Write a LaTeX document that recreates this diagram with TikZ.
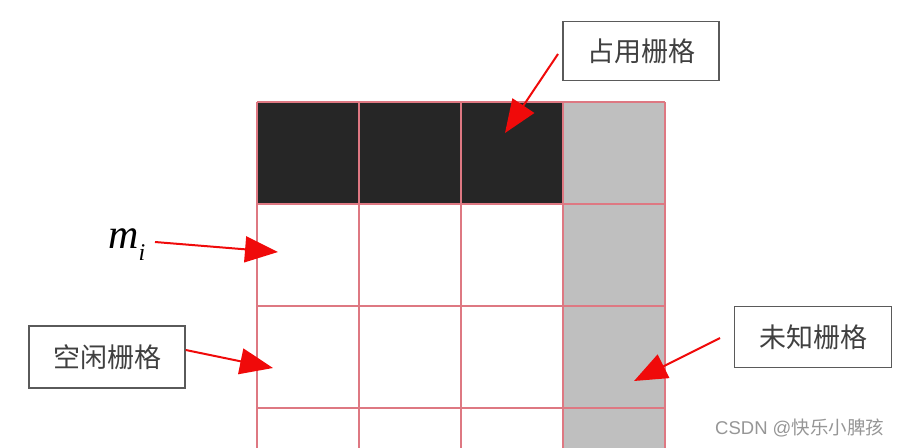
\documentclass[tikz,border=0pt]{standalone}
\usepackage{fontspec}
\setmainfont{Liberation Serif}
\newfontfamily\cjk{Noto Sans CJK SC}
\newfontfamily\wmfont{Liberation Sans}
\usetikzlibrary{arrows.meta}
\definecolor{occ}{RGB}{38,38,38}
\definecolor{unk}{RGB}{191,191,191}
\definecolor{gridred}{RGB}{222,120,130}
\definecolor{boxgray}{RGB}{90,90,90}
\definecolor{arrred}{RGB}{240,10,10}
\definecolor{wmgray}{RGB}{150,150,150}
\tikzset{
  labelbox/.style={draw=boxgray, line width=1.5pt, fill=white, inner sep=0pt, font=\cjk\fontsize{27}{27}\selectfont, text=black!75},
  redarrow/.style={draw=arrred, line width=2pt, -{Triangle[length=33pt,width=26pt]}, color=arrred},
  gridline/.style={draw=gridred, line width=1.1pt}
}
\begin{document}
\begin{tikzpicture}[x=1pt,y=-1pt]
\useasboundingbox (0,0) rectangle (902,447);
\begin{scope}
\clip (0,0) rectangle (902,447);
% cells
\fill[occ] (257,102) rectangle (563,204);
\fill[unk] (563,102) rectangle (665,460);
% grid lines
\foreach \x in {257,359,461,563,665} \draw[gridline] (\x,102) -- (\x,460);
\foreach \y in {102,204,306,408} \draw[gridline] (257,\y) -- (665,\y);
\end{scope}
% labels
\node[labelbox, minimum width=156pt, minimum height=59pt] (occbox) at (641,51) {占用栅格};
\node[labelbox, minimum width=156pt, minimum height=62pt] (freebox) at (107,357) {空闲栅格};
\node[labelbox, minimum width=157pt, minimum height=61pt] (unkbox) at (813,337) {未知栅格};
\node[inner sep=0pt, anchor=base west] (mi) at (108,248) {\fontsize{42}{42}\selectfont\itshape m\raisebox{-12pt}{\fontsize{24}{24}\selectfont i}};
% arrow targets
\coordinate (occcell) at (505,133);
\coordinate (micell) at (278,252);
\coordinate (freecell) at (273,368);
\coordinate (unkcell) at (634,381);
\coordinate (occstart) at (558,54);
\coordinate (mistart) at (155,242);
\coordinate (unkstart) at (720,338);
\draw[redarrow] (occstart) -- (occcell);
\draw[redarrow] (mistart) -- (micell);
\draw[redarrow] (freebox.east) ++(0,-7) -- (freecell);
\draw[redarrow] (unkstart) -- (unkcell);
% watermark
\node[font=\wmfont\fontsize{18.5}{18.5}\selectfont, text=wmgray, anchor=base west, inner sep=0pt] (wm) at (715,434) {CSDN @{\cjk 快乐小脾孩}};
\end{tikzpicture}
\end{document}
